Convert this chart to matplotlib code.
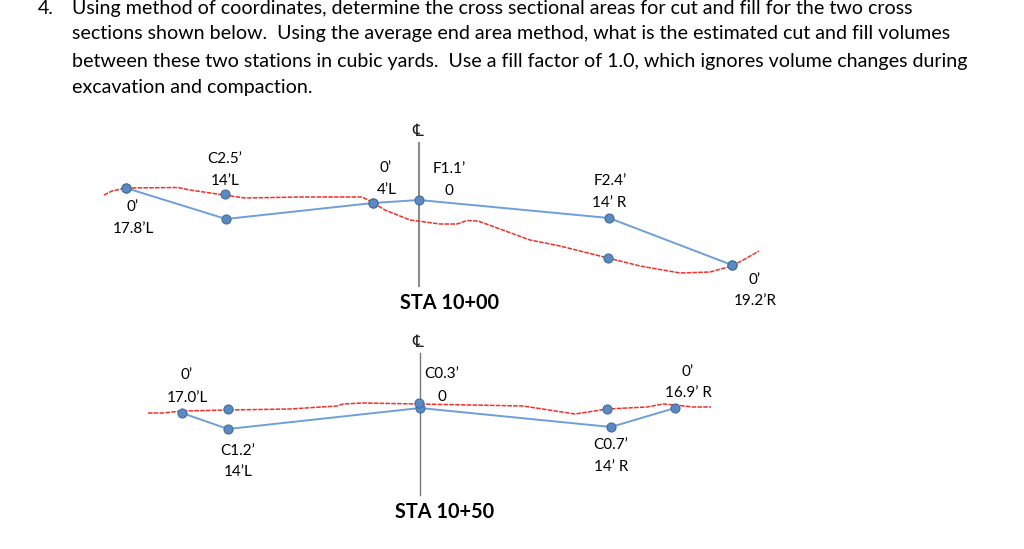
import matplotlib
matplotlib.use("Agg")
import matplotlib.pyplot as plt

FONT = ["Lato", "DejaVu Sans"]

# Question text
question_number = "4."
question_lines = [
    "Using method of coordinates, determine the cross sectional areas for cut and fill for the two cross",
    "sections shown below.  Using the average end area method, what is the estimated cut and fill volumes",
    "between these two stations in cubic yards.  Use a fill factor of 1.0, which ignores volume changes during",
    "excavation and compaction.",
]
question_y = [8.5, 33.5, 61, 87]

# Station 10+00 (x, y in image pixels)
design1_x = [126, 226, 373, 419, 609, 732]
design1_y = [188, 219, 203, 200, 218, 265]
ground1_x = [104, 112, 126, 178, 190, 224, 245, 300, 345, 362, 370, 385, 410, 440, 457, 467, 478, 500, 530, 560, 608, 640, 680, 710, 732, 745, 759]
ground1_y = [195, 191, 188, 187.5, 190, 195, 198, 197, 197, 197, 201, 210, 220, 224, 224, 220.5, 221, 229, 240, 246, 258, 266, 273, 272, 266, 259, 251]
ground1_mark_x = [126, 225, 373, 608, 732]
ground1_mark_y = [188, 194, 203, 258, 265]

# Station 10+50
design2_x = [182, 228, 420, 611, 675]
design2_y = [413, 429, 408, 427, 408]
ground2_x = [148, 163, 182, 228, 290, 337, 343, 363, 419, 523, 575, 607, 647, 663, 675, 693, 711]
ground2_y = [413, 413, 411, 410, 409, 406, 404, 403, 404, 406, 414, 409, 407, 404, 405, 407, 407]
ground2_mark_x = [228, 419, 607]
ground2_mark_y = [409, 403, 409]

# Labels: text, x centre, y centre
labels = [
    ("C2.5\u2019", 225, 159), ("14\u2019L", 225, 181),
    ("0\u2019", 386, 168), ("4\u2019L", 387, 190),
    ("F1.1\u2019", 449, 169), ("0", 449, 191),
    ("F2.4\u2019", 610, 181), ("14\u2019 R", 609, 203),
    ("0\u2019", 133, 207), ("17.8\u2019L", 133, 229),
    ("0\u2019", 755, 280), ("19.2\u2019R", 755, 301),
    ("0\u2019", 187, 375), ("17.0\u2019L", 187, 398),
    ("C1.2\u2019", 238, 451), ("14\u2019L", 238, 472),
    ("C0.3\u2019", 442, 374), ("0", 442, 397),
    ("C0.7\u2019", 611, 445), ("14\u2019 R", 611, 467),
    ("0\u2019", 688, 372), ("16.9\u2019 R", 688, 393),
]
stations = [("STA 10+00", 450, 303), ("STA 10+50", 445, 512)]
centre_lines = [(419, 143, 286, "#8c8c8c", 1.5), (419.5, 353, 495, "#777777", 1.0)]
cl_marks = [(418, 131), (418, 342)]

BLUE = "#6f9fd8"
RED = "#f0302a"
DOT = "#5b8ac2"
DOT_EDGE = "#3f6d9f"

fig = plt.figure(figsize=(10.24, 5.49), dpi=100)
ax = fig.add_axes([0, 0, 1, 1])
ax.set_xlim(0, 1024)
ax.set_ylim(549, 0)
ax.axis("off")

for x, y0, y1, c, lw in centre_lines:
    ax.plot([x, x], [y0, y1], color=c, lw=lw, zorder=1)

for gx, gy in [(ground1_x, ground1_y), (ground2_x, ground2_y)]:
    ax.plot(gx, gy, color=RED, lw=1.1, ls=(0, (3, 0.8)), zorder=2)
for dx, dy in [(design1_x, design1_y), (design2_x, design2_y)]:
    ax.plot(dx, dy, color=BLUE, lw=1.4, zorder=3)
    ax.plot(dx, dy, ls="none", marker="o", ms=6.5, mfc=DOT, mec=DOT_EDGE, mew=0.8, zorder=4)
for mx, my in [(ground1_mark_x, ground1_mark_y), (ground2_mark_x, ground2_mark_y)]:
    ax.plot(mx, my, ls="none", marker="o", ms=6.5, mfc=DOT, mec=DOT_EDGE, mew=0.8, zorder=4)

ax.text(38, question_y[0], question_number, fontsize=14.1, family=FONT, va="center", color="black")
for line, y in zip(question_lines, question_y):
    ax.text(72, y, line, fontsize=14.1, family=FONT, va="center", color="black")

for s, x, y in labels:
    ax.text(x, y, s, fontsize=11, family=FONT, ha="center", va="center", color="black")
for s, x, y in stations:
    ax.text(x, y, s, fontsize=14.3, family=FONT, weight="bold", ha="center", va="center", color="black")
for x, y in cl_marks:
    ax.text(x, y, "\u2104", fontsize=12, family=["DejaVu Sans"], ha="center", va="center", color="#222222")

fig.savefig("out.png", dpi=100)
